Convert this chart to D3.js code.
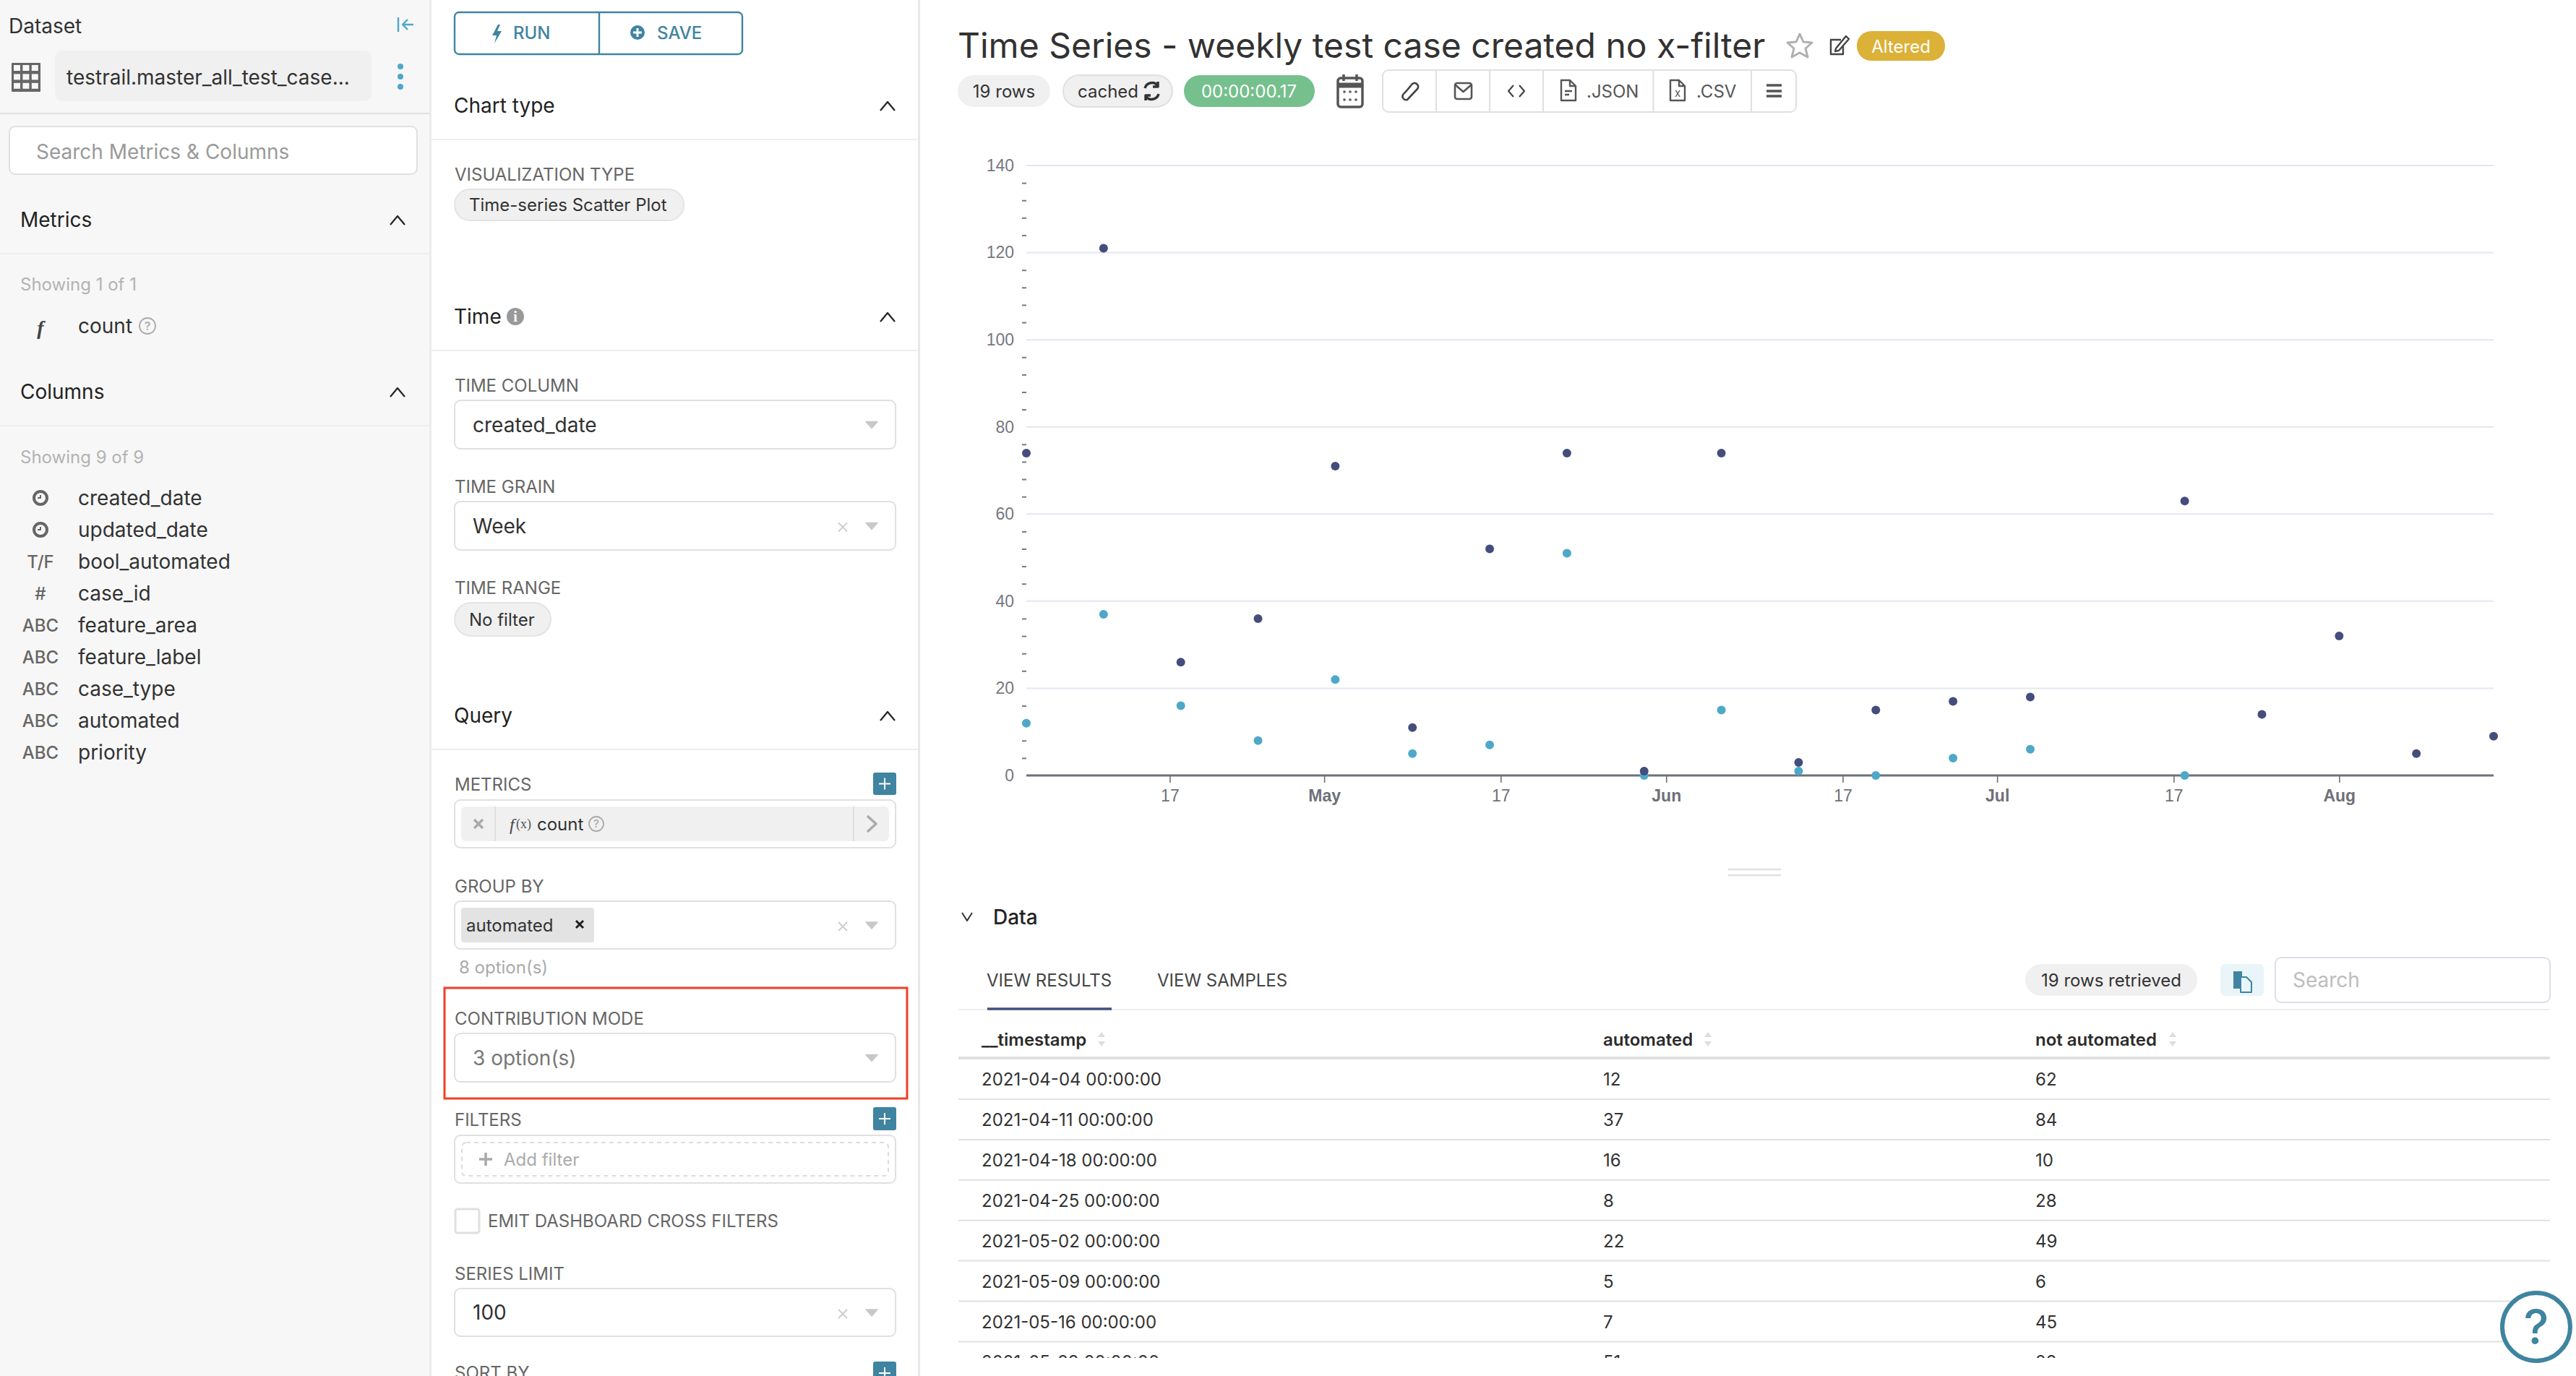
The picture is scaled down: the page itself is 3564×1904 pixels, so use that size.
<!DOCTYPE html>
<html><head><meta charset="utf-8">
<script src="https://cdnjs.cloudflare.com/ajax/libs/d3/7.8.5/d3.min.js"></script>
<style>
html,body{margin:0;padding:0;background:#fff;overflow:hidden}
svg{display:block}
text{font-family:Inter,"Noto Sans",sans-serif}
.ax text{font-family:"Liberation Sans",Arial,sans-serif}
</style></head><body>
<svg id="page" width="3564" height="1904" viewBox="0 0 3564 1904"></svg>
<script>
// ---- chart data ----
const weeks = ["2021-04-04","2021-04-11","2021-04-18","2021-04-25","2021-05-02","2021-05-09","2021-05-16","2021-05-23","2021-05-30","2021-06-06","2021-06-13","2021-06-20","2021-06-27","2021-07-04","2021-07-18","2021-07-25","2021-08-01","2021-08-08","2021-08-15"];
const automated = [12,37,16,8,22,5,7,51,0,15,1,0,4,6,0,null,null,null,null];
const notAutomated = [62,84,10,28,49,6,45,23,1,59,2,15,13,12,63,14,32,5,9];
const yMajorTicks = [0,20,40,60,80,100,120,140];
const xTickDates = ["2021-04-17","2021-05-01","2021-05-17","2021-06-01","2021-06-17","2021-07-01","2021-07-17","2021-08-01"];
const xTickLabels = ["17","May","17","Jun","17","Jul","17","Aug"];
const seriesColors = {automated:"#4ea8c8","not automated":"#444d7b"};
// ---- page text ----
const columnNames = ["created_date","updated_date","bool_automated","case_id","feature_area","feature_label","case_type","automated","priority"];
const columnTypes = ["clock","clock","T/F","#","ABC","ABC","ABC","ABC","ABC"];
const tableHeaders = ["__timestamp","automated","not automated"];

const svg = d3.select("#page");
const TEAL="#3f84a0", LINE="#e0e0e0", SOFT="#eeeeee";
function txt(x,y,s,o={}){
  const t=svg.append("text").attr("x",x).attr("y",y).attr("dy","0.36em")
    .attr("font-size",o.size||28).attr("fill",o.fill||"#323232")
    .attr("font-weight",o.weight||400).attr("text-anchor",o.anchor||"start").text(s);
  if(o.style)t.attr("font-style",o.style);
  if(o.family)t.style("font-family",o.family);
  return t;
}
function rect(x0,y0,x1,y1,o={}){
  return svg.append("rect").attr("x",x0).attr("y",y0).attr("width",x1-x0).attr("height",y1-y0)
    .attr("rx",o.r==null?8:o.r).attr("fill",o.fill||"none").attr("stroke",o.stroke||"none")
    .attr("stroke-width",o.sw||0).attr("stroke-dasharray",o.dash||null);
}
function hline(x0,x1,y,c=SOFT,w=2){svg.append("line").attr("x1",x0).attr("x2",x1).attr("y1",y).attr("y2",y).attr("stroke",c).attr("stroke-width",w);}
function vline(x,y0,y1,c=LINE,w=2){svg.append("line").attr("x1",x).attr("x2",x).attr("y1",y0).attr("y2",y1).attr("stroke",c).attr("stroke-width",w);}
function path(d,o={}){return svg.append("path").attr("d",d).attr("fill",o.fill||"none").attr("stroke",o.stroke||"none").attr("stroke-width",o.sw||0).attr("stroke-linecap",o.cap||"butt").attr("stroke-linejoin","round");}
function chevronUp(x,y){path(`M${x-10} ${y+7}L${x} ${y-5}L${x+10} ${y+7}`,{stroke:"#222",sw:2.2});}
function caret(x,y){path(`M${x-8} ${y-4}H${x+8}L${x} ${y+5}Z`,{fill:"#c8c8c8",stroke:"#c8c8c8",sw:1.5});}
function cross(x,y,c="#ccc",r=6,w=1.8){path(`M${x-r} ${y-r}L${x+r} ${y+r}M${x+r} ${y-r}L${x-r} ${y+r}`,{stroke:c,sw:w});}
function field(y0,y1,label,value,o={}){
  txt(629,y0-21,label,{size:24,fill:"#666"});
  rect(629,y0,1239,y1,{fill:"#fff",stroke:LINE,sw:2});
  if(value)txt(654,(y0+y1)/2,value,{fill:o.fill||"#323232"});
  caret(1206,(y0+y1)/2);
  if(o.clear)cross(1166,(y0+y1)/2+2);
}
function plus(y0,y1){
  rect(1208,y0,1240,y1,{fill:TEAL,r:3});
  const c=(y0+y1)/2;
  path(`M1216 ${c}H1232M1224 ${c-8}V${c+8}`,{stroke:"#fff",sw:2});
}
function helpIcon(x,y,r=11){
  svg.append("circle").attr("cx",x).attr("cy",y).attr("r",r).attr("fill","none").attr("stroke","#aaa").attr("stroke-width",1.8);
  txt(x,y,"?",{size:r*1.5,fill:"#aaa",anchor:"middle",weight:500});
}

// ---- panels ----
rect(0,0,594,1904,{fill:"#f7f7f7",r:0});
rect(594,0,597,1904,{fill:"#ececec",r:0});
rect(1270,0,1273,1904,{fill:"#e8e8e8",r:0});

// left panel
txt(12,36,"Dataset",{fill:"#323232"});
path("M551 24V44M572 34H557M564 27L557 34L564 41",{stroke:"#4ea8c8",sw:2.4});
rect(16,87,56,127,{fill:"#666",r:1});
[0,1,2].forEach(i=>[0,1,2].forEach(k=>rect(19+i*12.4,90+k*12.4,28+i*12.4,98+k*12.4,{fill:"#f7f7f7",r:0})));
rect(76,70,514,140,{fill:"#f0f0f0",r:10});
txt(92,107,"testrail.master_all_test_case...");
[92,106,120].forEach(y=>svg.append("circle").attr("cx",554).attr("cy",y).attr("r",4).attr("fill","#4ea8c8"));
hline(0,594,157,"#e0e0e0",2);
rect(13,175,577,241,{fill:"#fff",stroke:LINE,sw:2});
txt(50,210,"Search Metrics & Columns",{fill:"#9a9a9a"});
txt(28,304,"Metrics",{fill:"#222"});chevronUp(550,304);hline(0,594,351);
txt(28,393,"Showing 1 of 1",{size:24,fill:"#b3b3b3"});
txt(56,453,"f",{size:28,fill:"#444",anchor:"middle",style:"italic",family:"'Liberation Serif',serif",weight:700});
txt(108,451,"count",{fill:"#323232"});helpIcon(204,451);
txt(28,542,"Columns",{fill:"#222"});chevronUp(550,542);hline(0,594,589);
txt(28,632,"Showing 9 of 9",{size:24,fill:"#b3b3b3"});
columnNames.forEach((c,i)=>{
  const y=689+i*44, t=columnTypes[i];
  if(t==="clock"){
    svg.append("circle").attr("cx",56).attr("cy",y).attr("r",9).attr("fill","none").attr("stroke","#666").attr("stroke-width",4);
    path(`M56 ${y-4}V${y}H52`,{stroke:"#666",sw:2});
  } else txt(56,y,t,{size:24,fill:"#666",anchor:"middle",weight:500});
  txt(108,y,c);
});

// middle panel
rect(629,17,1027,75,{fill:"#fff",stroke:TEAL,sw:2.4,r:6});vline(829,17,75,TEAL,2.4);
path("M689 34L681 49H687L684 60L694 43H688L692 34Z",{fill:TEAL});
txt(710,45,"RUN",{size:24,fill:TEAL,weight:500});
svg.append("circle").attr("cx",882).attr("cy",45).attr("r",10).attr("fill",TEAL);
path("M876 45H888M882 39V51",{stroke:"#fff",sw:3});
txt(909,45,"SAVE",{size:24,fill:TEAL,weight:500});

txt(628,146,"Chart type",{fill:"#222"});chevronUp(1228,146);hline(597,1270,193);
txt(629,241,"VISUALIZATION TYPE",{size:24,fill:"#666"});
rect(629,262,946,305,{fill:"#f0f0f0",stroke:"#e4e4e4",sw:2,r:21});
txt(649,283,"Time-series Scatter Plot",{size:24});

txt(628,438,"Time",{fill:"#222"});
svg.append("circle").attr("cx",713).attr("cy",438).attr("r",12).attr("fill","#999");
txt(713,438,"i",{size:20,fill:"#fff",anchor:"middle",weight:700,family:"'Liberation Serif',serif"});
chevronUp(1228,438);hline(597,1270,485);

field(554,621,"TIME COLUMN","created_date");
field(694,761,"TIME GRAIN","Week",{clear:true});
txt(629,813,"TIME RANGE",{size:24,fill:"#666"});
rect(629,834,762,880,{fill:"#f0f0f0",stroke:"#e4e4e4",sw:2,r:23});
txt(649,857,"No filter",{size:24});
txt(628,990,"Query",{fill:"#222"});chevronUp(1228,990);hline(597,1270,1037);

txt(629,1085,"METRICS",{size:24,fill:"#666"});plus(1069,1100);
rect(629,1107,1239,1173,{fill:"#fff",stroke:LINE,sw:2});
rect(638,1116,1230,1164,{fill:"#f0f0f0",r:6});
vline(685,1116,1164);vline(1181,1116,1164);
cross(662,1140,"#aaa",6,3.5);
txt(705,1140,"f",{size:24,fill:"#444",style:"italic",family:"'Liberation Serif',serif"});
txt(714,1140,"(x)",{size:18,fill:"#555",family:"'Liberation Serif',serif"});
txt(743,1140,"count",{size:24});helpIcon(825,1140,10);
path("M1200 1129L1212 1140L1200 1151",{stroke:"#aaa",sw:3.5});

field(1247,1313,"GROUP BY",null,{clear:true});
rect(638,1256,822,1304,{fill:"#e3e3e3",r:4});
txt(645,1280,"automated",{size:24});cross(802,1279,"#222",5,3);
txt(635,1338,"8 option(s)",{size:24,fill:"#aaa"});

rect(615,1367,1255,1520,{stroke:"#ee4027",sw:3,r:0});
field(1430,1497,"CONTRIBUTION MODE","3 option(s)",{fill:"#777"});

txt(629,1549,"FILTERS",{size:24,fill:"#666"});plus(1532,1564);
rect(629,1571,1239,1637,{fill:"#fff",stroke:LINE,sw:2});
rect(639,1581,1229,1627,{stroke:"#ddd",sw:2,dash:"6 5",r:6});
path("M663 1604H681M672 1595V1613",{stroke:"#aaa",sw:3.5});
txt(697,1604,"Add filter",{size:24,fill:"#aaa"});
rect(630,1673,663,1706,{fill:"#fff",stroke:LINE,sw:3,r:3});
txt(675,1689,"EMIT DASHBOARD CROSS FILTERS",{size:24,fill:"#666"});
field(1783,1849,"SERIES LIMIT","100",{clear:true});
txt(629,1899,"SORT BY",{size:24,fill:"#666"});plus(1884,1916);

// header of the chart area
txt(1325,63,"Time Series - weekly test case created no x-filter",{size:48,fill:"#323232"});
path("M2490 47L2495 58L2507 59L2498 67L2501 79L2490 73L2479 79L2482 67L2473 59L2485 58Z",{stroke:"#b0b0b0",sw:3});
path("M2547 55H2533V75H2550V63M2540 67L2554 50L2558 54L2544 70L2539 71Z",{stroke:"#444",sw:2.4});
rect(2569,43,2691,84,{fill:"#dcb138",r:20});
txt(2630,64,"Altered",{size:24,fill:"#fff",anchor:"middle"});
rect(1325,104,1453,148,{fill:"#f0f0f0",r:22});
txt(1389,126,"19 rows",{size:24,anchor:"middle"});
rect(1471,104,1622,148,{fill:"#f0f0f0",stroke:"#e0e0e0",sw:2,r:22});
txt(1491,126,"cached",{size:24});
path("M1584 122A10 10 0 0 1 1602 119M1602 113V120H1595M1603 130A10 10 0 0 1 1585 133M1585 139V132H1592",{stroke:"#333",sw:3.5});
rect(1638,104,1819,148,{fill:"#75c08d",r:22});
txt(1728,126,"00:00:00.17",{size:24,fill:"#fff",anchor:"middle"});
rect(1851,108,1885,148,{stroke:"#555",sw:3.5,r:4});
hline(1851,1885,118,"#555",7);vline(1859,103,112,"#555",3.5);vline(1877,103,112,"#555",3.5);
[127,138].forEach(y=>[1860,1868,1876].forEach(x=>svg.append("circle").attr("cx",x).attr("cy",y).attr("r",1.8).attr("fill","#555")));
rect(1913,97,2485,155,{fill:"#fff",stroke:LINE,sw:2});
[1987,2061,2135,2287.5,2423].forEach(x=>vline(x,97,155));
path("M1944 128L1954 116A5 5 0 0 1 1961 123L1947 138A5 5 0 0 1 1941 131L1951 120",{stroke:"#444",sw:2.6});
rect(2013,115,2036,137,{stroke:"#555",sw:2.6,r:3});path("M2013 117L2024.5 127L2036 117",{stroke:"#555",sw:2.6});
path("M2094 118L2087 126L2094 134",{stroke:"#444",sw:2.2});path("M2102 118L2109 126L2102 134",{stroke:"#444",sw:2.2});
function fileIcon(x){path(`M${x} 111H${x+12}L${x+20} 119V139H${x}Z M${x+12} 111V119H${x+20}`,{stroke:"#555",sw:2.4});}
fileIcon(2160);path("M2165 126H2175M2165 131H2171",{stroke:"#555",sw:2.4});
txt(2195,126,".JSON",{size:24,fill:"#555"});
fileIcon(2311);txt(2321,129,"x",{size:15,fill:"#555",anchor:"middle"});
txt(2347,126,".CSV",{size:24,fill:"#555"});
[118,126,133].forEach(y=>hline(2444,2465,y,"#555",3.5));

// ---- the chart ----
const parse = d3.utcParse("%Y-%m-%d");
const rows = weeks.map((w,i)=>({date:parse(w),automated:automated[i],notAutomated:notAutomated[i]}));
const x = d3.scaleUtc().domain([parse(weeks[0]),parse(weeks[weeks.length-1])]).range([1420,3450]);
const y = d3.scaleLinear().domain([0,140]).range([1073,229]);
const stack = d3.stack().keys(["automated","notAutomated"]).value((d,k)=>d[k]||0)(rows);

const gridG = svg.append("g");
gridG.selectAll("line").data(yMajorTicks.filter(v=>v>0)).join("line")
  .attr("x1",x.range()[0]).attr("x2",x.range()[1]).attr("y1",d=>y(d)).attr("y2",d=>y(d))
  .attr("stroke","#e3e6f1").attr("stroke-width",2);

const yAxisG = svg.append("g").attr("class","ax").attr("transform","translate(1420,0)")
  .call(d3.axisLeft(y).tickValues(yMajorTicks).tickSize(0).tickPadding(17));
yAxisG.select(".domain").remove();
yAxisG.selectAll("text").attr("font-size",23).attr("fill","#77787f").attr("dy","0.32em");
const minor = d3.range(0,141,4).filter(v=>v%20!==0);
const yMinorG = svg.append("g").attr("transform","translate(1420,0)")
  .call(d3.axisLeft(y).tickValues(minor).tickSize(6).tickFormat(""));
yMinorG.select(".domain").remove();
yMinorG.selectAll("line").attr("stroke","#77787f").attr("stroke-width",2);

const xAxisG = svg.append("g").attr("class","ax").attr("transform","translate(0,1073)")
  .call(d3.axisBottom(x).tickValues(xTickDates.map(parse)).tickSize(10).tickPadding(10)
    .tickFormat((d,i)=>xTickLabels[i]));
xAxisG.select(".domain").attr("d",`M${x.range()[0]} 0H${x.range()[1]}`).attr("stroke","#6e7178").attr("stroke-width",3);
xAxisG.selectAll("line").attr("stroke","#6e7178").attr("stroke-width",1.6);
xAxisG.selectAll("text").attr("font-size",23).attr("fill","#6f7078")
  .attr("font-weight",(d,i)=>xTickLabels[i].length>2?700:400);

svg.append("g").selectAll("circle").data(rows.filter(d=>d.automated!=null)).join("circle")
  .attr("cx",d=>x(d.date)).attr("cy",d=>y(d.automated)).attr("r",6).attr("fill",seriesColors.automated);
svg.append("g").selectAll("circle").data(stack[1]).join("circle")
  .attr("cx",d=>x(d.data.date)).attr("cy",d=>y(d[1])).attr("r",6).attr("fill",seriesColors["not automated"]);

// resize handle
hline(2391,2464,1203,"#e0e0e0",2.4);hline(2391,2464,1211,"#e0e0e0",2.4);

// ---- data table ----
path("M1331 1263L1338 1274L1345 1263",{stroke:"#333",sw:2});
txt(1374,1269,"Data",{fill:"#222",weight:500});
txt(1365,1356,"VIEW RESULTS",{size:24,fill:"#444"});
txt(1601,1356,"VIEW SAMPLES",{size:24,fill:"#444"});
hline(1326,3528,1397,"#eeeeee",2);
hline(1366,1538,1396,"#454e7c",3.5);
rect(2802,1334,3040,1378,{fill:"#f0f0f0",r:22});
txt(2921,1356,"19 rows retrieved",{size:24,anchor:"middle"});
rect(3072,1334,3132,1378,{fill:"#e9f5f8",r:6});
path("M3090 1344H3102V1368H3090Z",{fill:TEAL});
path("M3100 1352H3108L3115 1359V1373H3100Z",{fill:"#e9f5f8",stroke:TEAL,sw:2});
rect(3148,1325,3528,1387,{fill:"#fff",stroke:"#dcdfe8",sw:2});
txt(3172,1356,"Search",{fill:"#bdbdbd"});

const colX = [1358,2218,2816], sortX=[1524,2363,3006];
tableHeaders.forEach((h,i)=>{
  txt(colX[i],1438,h,{size:24,weight:600,fill:"#2b2b2b"});
  path(`M${sortX[i]-5} 1435L${sortX[i]} 1428L${sortX[i]+5} 1435Z`,{fill:"#ddd"});
  path(`M${sortX[i]-5} 1441L${sortX[i]} 1448L${sortX[i]+5} 1441Z`,{fill:"#ddd"});
});
hline(1326,3528,1464,"#e0e0e0",4);
svg.append("defs").append("clipPath").attr("id","tbl").append("rect").attr("x",1326).attr("y",1464).attr("width",2202).attr("height",415);
const tbl = svg.append("g").attr("clip-path","url(#tbl)");
const fmt = d3.utcFormat("%Y-%m-%d %H:%M:%S");
rows.slice(0,8).forEach((r,i)=>{
  const yy=1493.5+i*55.9;
  [fmt(r.date),r.automated,r.notAutomated].forEach((v,j)=>{
    tbl.append("text").attr("x",colX[j]).attr("y",yy).attr("dy","0.36em").attr("font-size",24).attr("fill","#323232").text(v);
  });
  tbl.append("line").attr("x1",1326).attr("x2",3528).attr("y1",yy+27.5).attr("y2",yy+27.5).attr("stroke","#e0e0e0").attr("stroke-width",2);
});

// help button
svg.append("circle").attr("cx",3509).attr("cy",1836).attr("r",47).attr("fill","#fff").attr("stroke",TEAL).attr("stroke-width",6);
txt(3509,1836,"?",{size:66,fill:TEAL,anchor:"middle",weight:500});
</script>
</body></html>
